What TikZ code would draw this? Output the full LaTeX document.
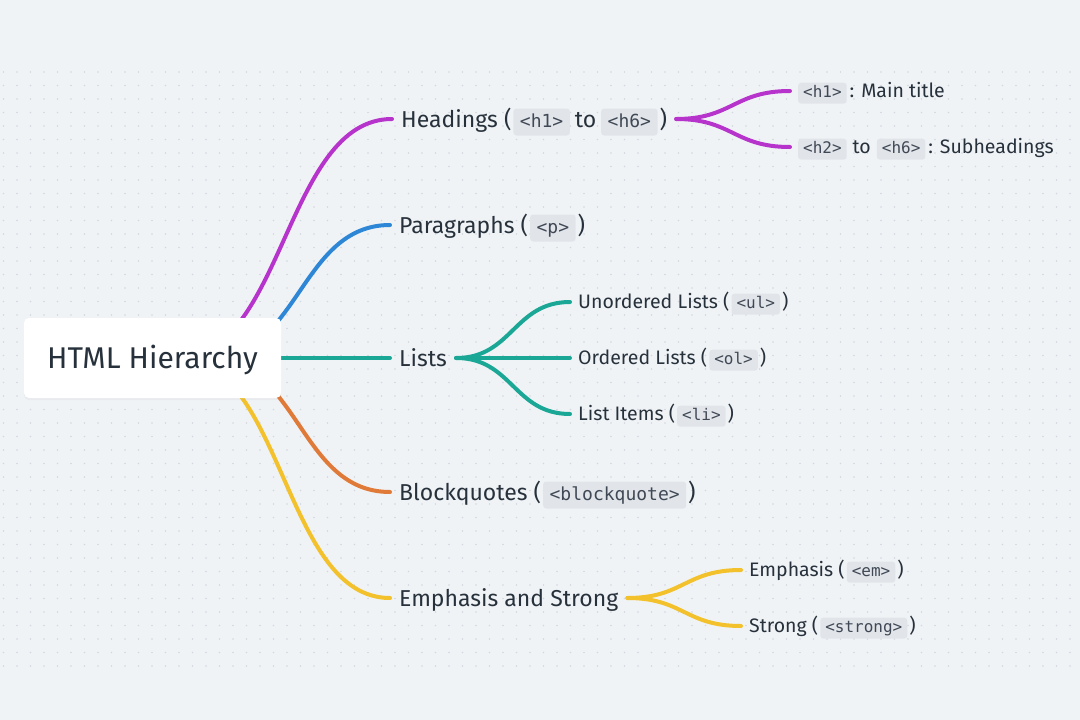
\documentclass[tikz,border=0pt]{standalone}
\usepackage{fontspec}
\setmainfont{Fira Sans}
\newfontfamily\codefont{DejaVu Sans Mono}
\usetikzlibrary{shadows}
\definecolor{bg}{HTML}{F0F3F6}
\definecolor{dotc}{HTML}{D3D8DE}
\definecolor{ink}{HTML}{27313B}
\definecolor{cpurple}{HTML}{B634CC}
\definecolor{cblue}{HTML}{2D86D6}
\definecolor{cteal}{HTML}{1BA796}
\definecolor{corange}{HTML}{E07A38}
\definecolor{cyellow}{HTML}{F2C12B}
\definecolor{chipbg}{HTML}{E1E5EA}
\definecolor{chipink}{HTML}{3F4854}
\newcommand\chip[1]{\tikz[baseline=(cc.base)]\node[chipnode,inner xsep=6.5pt,font=\codefont\fontsize{18}{21}\selectfont,text height=14pt,text depth=4pt,inner ysep=4.5pt](cc){#1};}
\newcommand\schip[1]{\tikz[baseline=(cc.base)]\node[chipnode,inner xsep=5pt,font=\codefont\fontsize{16}{19}\selectfont,text height=12pt,text depth=3pt,inner ysep=3pt](cc){#1};}
\begin{document}
\begin{tikzpicture}[x=1pt,y=-1pt,line cap=round,
  chipnode/.style={fill=chipbg,rounded corners=3pt,text=chipink},
  br/.style={line width=4pt},
  lbl/.style={anchor=west,inner xsep=9pt,inner ysep=0pt,text height=22pt,text depth=6pt,text=ink,font=\fontsize{23}{27}\selectfont},
  sub/.style={anchor=west,inner xsep=8pt,inner ysep=0pt,text height=20pt,text depth=6.7pt,text=ink,font=\fontsize{19.5}{23}\selectfont},
  rootbox/.style={fill=white,rounded corners=5pt,minimum width=257pt,minimum height=80pt,text=ink,
    text height=26pt,text depth=5.3pt,
    font=\fontsize{30}{34}\selectfont,drop shadow={opacity=0.07,shadow xshift=0pt,shadow yshift=-2pt}}]
% background
\fill[bg] (0,0) rectangle (1080,720);
\foreach \i in {0,...,79}{
  \foreach \j in {0,...,44}{
    \fill[dotc] (3.5+13.5*\i,72+13.5*\j) circle[radius=0.9pt];
  }
}
% hidden starting points behind the root box
\coordinate (sP) at (177,358);
\coordinate (sB) at (209,358);
\coordinate (sT) at (240,358);
\coordinate (sO) at (208,358);
\coordinate (sY) at (177,358);
% first level labels
\node[lbl] (head) at (392,119) {Headings (\hspace{2pt}\chip{<h1>}\hspace{5pt}to\hspace{5pt}\chip{<h6>}\hspace{2pt})};
\node[lbl] (para) at (390,225) {Paragraphs (\hspace{2pt}\chip{<p>}\hspace{2pt})};
\node[lbl] (lists) at (390,358) {Lists};
\node[lbl] (bq) at (390,492) {Blockquotes (\hspace{2pt}\chip{<blockquote>}\hspace{2pt})};
\node[lbl] (emph) at (390,598) {Emphasis and Strong};
% second level labels
\node[sub] (h1) at (790,91) {\schip{<h1>}\hspace{3pt}: Main title};
\node[sub] (h2) at (790,147) {\schip{<h2>}\hspace{6pt}to\hspace{6pt}\schip{<h6>}\hspace{3pt}: Subheadings};
\node[sub] (ul) at (570,302) {Unordered Lists (\hspace{2pt}\schip{<ul>}\hspace{2pt})};
\node[sub] (ol) at (570,358) {Ordered Lists (\hspace{2pt}\schip{<ol>}\hspace{2pt})};
\node[sub] (li) at (570,414) {List Items (\hspace{2pt}\schip{<li>}\hspace{2pt})};
\node[sub] (em) at (741,570) {Emphasis (\hspace{2pt}\schip{<em>}\hspace{2pt})};
\node[sub] (strong) at (741,626) {Strong (\hspace{2pt}\schip{<strong>}\hspace{2pt})};
% main branches
\draw[br,cpurple] (sP) .. controls +(107,0) and +(-107,0) .. (head.west);
\draw[br,cblue] (sB) .. controls +(90,0) and +(-90,0) .. (para.west);
\draw[br,cteal] (sT) -- (lists.west);
\draw[br,corange] (sO) .. controls +(91,0) and +(-91,0) .. (bq.west);
\draw[br,cyellow] (sY) .. controls +(107,0) and +(-107,0) .. (emph.west);
% root
\node[rootbox] (root) at (152.5,358) {HTML Hierarchy};
% sub branches
\draw[br,cpurple] (head.east) .. controls +(56,0) and +(-56,0) .. (h1.west);
\draw[br,cpurple] (head.east) .. controls +(56,0) and +(-56,0) .. (h2.west);
\draw[br,cteal] (lists.east) .. controls +(56,0) and +(-56,0) .. (ul.west);
\draw[br,cteal] (lists.east) -- (ol.west);
\draw[br,cteal] (lists.east) .. controls +(56,0) and +(-56,0) .. (li.west);
\draw[br,cyellow] (emph.east) .. controls +(56,0) and +(-56,0) .. (em.west);
\draw[br,cyellow] (emph.east) .. controls +(56,0) and +(-56,0) .. (strong.west);
\end{tikzpicture}
\end{document}
